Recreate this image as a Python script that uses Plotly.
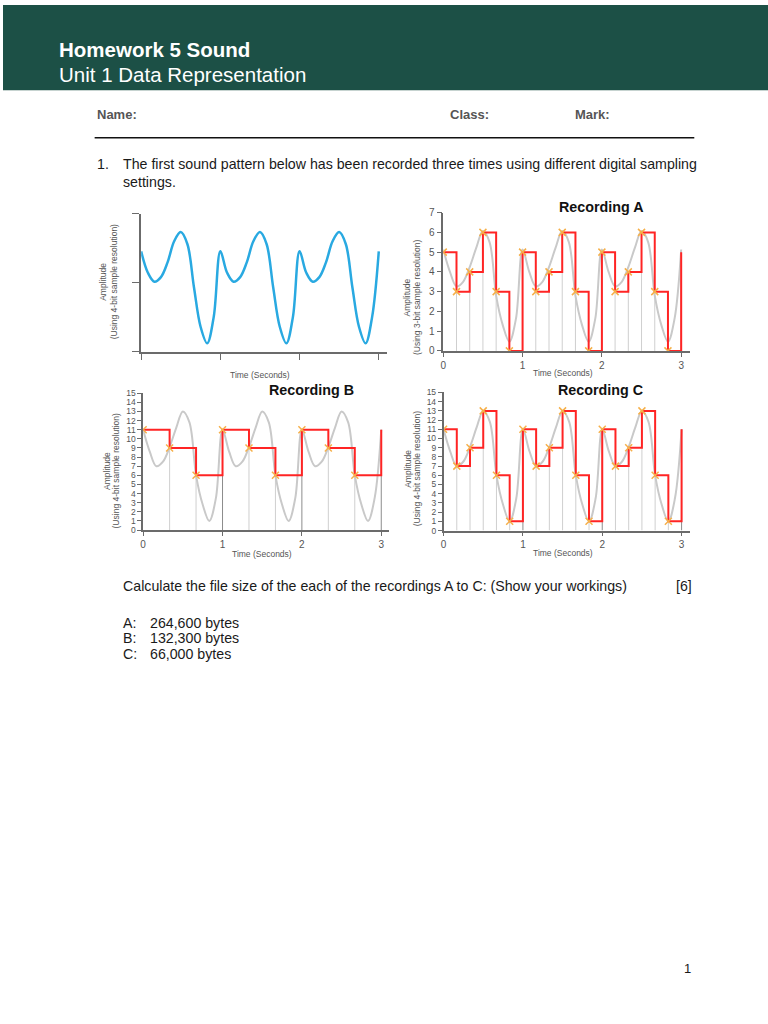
import plotly.graph_objects as go

W, H = 768, 1024

# one period of the source sound is sampled every 1/12 s on the smooth curves
wave_t = [i / 12 for i in range(37)]

# original sound (top-left chart), 4-bit units
original_wave = [10.9, 8.6, 7.6, 8.1, 9.7, 12.0, 13.0, 11.7, 7.0, 2.7, 0.9, 3.8,
                 10.9, 8.6, 7.6, 8.1, 9.7, 12.0, 13.0, 11.7, 7.0, 2.7, 0.9, 3.8,
                 10.9, 8.6, 7.6, 8.1, 9.7, 12.0, 13.0, 11.7, 7.0, 2.7, 0.9, 3.8,
                 10.9]

# grey reference curve behind the recordings, 4-bit units
grey_wave = [11.0, 8.6, 7.0, 7.5, 9.1, 11.2, 13.0, 11.8, 6.0, 2.8, 1.0, 3.5,
             11.0, 8.6, 7.0, 7.5, 9.1, 11.2, 13.0, 11.8, 6.0, 2.8, 1.0, 3.5,
             11.0, 8.6, 7.0, 7.5, 9.1, 11.2, 13.0, 11.8, 6.0, 2.8, 1.0, 3.5,
             11.0]
# same curve in 3-bit units (recording A)
grey_wave_3bit = [v * 7 / 15 for v in grey_wave]

# recording A: 6 samples per second, 3-bit
rec_a_t = [i / 6 for i in range(19)]
rec_a = [5, 3, 4, 6, 3, 0, 5, 3, 4, 6, 3, 0, 5, 3, 4, 6, 3, 0, 5]

# recording B: 3 samples per second, 4-bit
rec_b_t = [i / 3 for i in range(10)]
rec_b = [11, 9, 6, 11, 9, 6, 11, 9, 6, 11]

# recording C: 6 samples per second, 4-bit
rec_c_t = [i / 6 for i in range(19)]
rec_c = [11, 7, 9, 13, 6, 1, 11, 7, 9, 13, 6, 1, 11, 7, 9, 13, 6, 1, 11]

answers = ["264,600 bytes", "132,300 bytes", "66,000 bytes"]

FONT = "Liberation Sans, Arial, sans-serif"
AXIS_COL = '#6b6b6b'
GREY = '#c9c9c9'
RED = '#ff2424'
ORANGE = '#f6b04a'


def px(x):
    return x / W


def py(y):
    return 1 - y / H


fig = go.Figure()


def stems(t, v, xa, ya, integer=False):
    xs, ys = [], []
    for ti, vi in zip(t, v):
        is_int = abs(ti - round(ti)) < 1e-9
        if is_int != integer or vi == 0:
            continue
        xs += [ti, ti, None]
        ys += [0, vi, None]
    fig.add_trace(go.Scatter(x=xs, y=ys, mode='lines', xaxis=xa, yaxis=ya,
                             line=dict(color='#8c8c8c' if integer else '#cfcfcf', width=1),
                             hoverinfo='skip', showlegend=False))


def recording(t, v, curve, xa, ya):
    stems(t[1:], v[1:], xa, ya)
    stems(t[1:], v[1:], xa, ya, integer=True)
    fig.add_trace(go.Scatter(x=wave_t, y=curve, mode='lines', xaxis=xa, yaxis=ya,
                             line=dict(color=GREY, width=2, shape='spline', smoothing=1.0),
                             hoverinfo='skip', showlegend=False))
    fig.add_trace(go.Scatter(x=t, y=v, mode='lines', xaxis=xa, yaxis=ya,
                             line=dict(color=RED, width=2, shape='hv'),
                             showlegend=False))
    fig.add_trace(go.Scatter(x=t[:-1], y=v[:-1], mode='markers', xaxis=xa, yaxis=ya,
                             marker=dict(symbol='x-thin', size=7, color=ORANGE,
                                         line=dict(color=ORANGE, width=1.5)),
                             showlegend=False))


# top-left: original sound
fig.add_trace(go.Scatter(x=wave_t, y=original_wave, mode='lines', xaxis='x', yaxis='y',
                         line=dict(color='#29a9e1', width=2.5, shape='spline', smoothing=1.0),
                         showlegend=False))

recording(rec_a_t, rec_a, grey_wave_3bit, 'x2', 'y2')
recording(rec_b_t, rec_b, grey_wave, 'x3', 'y3')
recording(rec_c_t, rec_c, grey_wave, 'x4', 'y4')


def axis(x0, x1, rng, labels=True, size=9, tickvals=None, ticklen=5):
    d = dict(domain=[px(x0), px(x1)], range=rng, showgrid=False, zeroline=False,
             showline=True, linecolor=AXIS_COL, linewidth=1.5,
             ticks='outside', ticklen=ticklen, tickcolor=AXIS_COL, tickwidth=1,
             showticklabels=labels, tickfont=dict(family=FONT, size=size, color='#555555'),
             fixedrange=True)
    if tickvals is not None:
        d['tickvals'] = tickvals
    return d


def yaxis(y0, y1, rng, labels=True, size=9, tickvals=None, ticklen=5):
    d = axis(0, W, rng, labels, size, tickvals, ticklen)
    d['domain'] = [py(y1), py(y0)]
    return d


fig.update_layout(
    width=W, height=H,
    margin=dict(l=0, r=0, t=0, b=0),
    plot_bgcolor='white', paper_bgcolor='white',
    showlegend=False,
    xaxis=axis(138.7, 386, [0, 3.11], labels=False, tickvals=[0, 1, 2, 3], ticklen=7),
    yaxis=dict(yaxis(210.7, 350, [0, 15], labels=False, tickvals=[0, 7.5, 15], ticklen=7), anchor='x'),
    xaxis2=dict(axis(442, 690, [0, 3.115], size=10, tickvals=[0, 1, 2, 3], ticklen=4), anchor='y2'),
    yaxis2=dict(yaxis(209.7, 349.3, [0, 7], size=10, tickvals=list(range(8))), anchor='x2'),
    xaxis3=dict(axis(140.7, 387.7, [0, 3.10], size=10, tickvals=[0, 1, 2, 3], ticklen=4), anchor='y3'),
    yaxis3=dict(yaxis(392, 530.3, [0, 15], size=8.5, tickvals=list(range(16)), ticklen=4), anchor='x3'),
    xaxis4=dict(axis(442.3, 690, [0, 3.11], size=10, tickvals=[0, 1, 2, 3], ticklen=4), anchor='y4'),
    yaxis4=dict(yaxis(391.3, 530.7, [0, 15], size=8.5, tickvals=list(range(16)), ticklen=4), anchor='x4'),
)

# header band
fig.add_shape(type='rect', xref='paper', yref='paper', x0=0, x1=1, y0=py(86), y1=1,
              fillcolor='#1c5046', line=dict(width=0), layer='below')
fig.add_shape(type='line', xref='paper', yref='paper', x0=px(92), x1=px(694), y0=py(134), y1=py(134),
              line=dict(color='#111111', width=1.5))


def text(x, y, s, size=14, color='#1a1a1a', bold=False, anchor='left', angle=0):
    if bold:
        s = '<b>' + s + '</b>'
    fig.add_annotation(x=px(x), y=py(y), xref='paper', yref='paper', text=s, showarrow=False,
                       xanchor=anchor, yanchor='middle', textangle=angle,
                       font=dict(family=FONT, size=size, color=color))


text(54, 45, 'Homework 5 Sound', size=20.5, color='white', bold=True)
text(54, 70, 'Unit 1 Data Representation', size=20.5, color='white')

text(92, 111, 'Name:', size=13, color='#555555', bold=True)
text(447, 111, 'Class:', size=13, color='#555555', bold=True)
text(572, 111, 'Mark:', size=13, color='#555555', bold=True)

text(92, 161, '1.', size=14.2)
text(118, 161, 'The first sound pattern below has been recorded three times using different digital sampling', size=14.2)
text(118, 179, 'settings.', size=14.2)

# chart labels
text(258, 374, 'Time (Seconds)', size=8.5, color='#555555', anchor='center')
text(101, 280, 'Amplitude', size=8.5, color='#555555', anchor='center', angle=-90)
text(111.5, 280, '(Using 4-bit sample resolution)', size=8.5, color='#555555', anchor='center', angle=-90)

text(600, 204, 'Recording A', size=14.3, color='#111111', bold=True, anchor='center')
text(562, 371.5, 'Time (Seconds)', size=8.5, color='#555555', anchor='center')
text(406, 295, 'Amplitude', size=8.5, color='#555555', anchor='center', angle=-90)
text(415.5, 295, '(Using 3-bit sample resolution)', size=8.5, color='#555555', anchor='center', angle=-90)

text(310, 388.5, 'Recording B', size=14.3, color='#111111', bold=True, anchor='center')
text(260, 554, 'Time (Seconds)', size=8.5, color='#555555', anchor='center')
text(105, 471, 'Amplitude', size=8.5, color='#555555', anchor='center', angle=-90)
text(113.5, 471, '(Using 4-bit sample resolution)', size=8.5, color='#555555', anchor='center', angle=-90)

text(600, 388.5, 'Recording C', size=14.3, color='#111111', bold=True, anchor='center')
text(562, 553, 'Time (Seconds)', size=8.5, color='#555555', anchor='center')
text(407, 468, 'Amplitude', size=8.5, color='#555555', anchor='center', angle=-90)
text(416.5, 468, '(Using 4-bit sample resolution)', size=8.5, color='#555555', anchor='center', angle=-90)

text(118, 587, 'Calculate the file size of the each of the recordings A to C: (Show your workings)', size=14.2)
text(694, 587, '[6]', size=14.2, anchor='right')

for i, (lab, ans) in enumerate(zip(['A:', 'B:', 'C:'], answers)):
    text(118, 624 + i * 15.5, lab, size=14.2)
    text(146, 624 + i * 15.5, ans, size=14.2)

text(693, 973, '1', size=13, anchor='right')

# drop the browser's default body margin so the figure sits at the page corner
fig.write_html("out.html", config={'displayModeBar': False},
               post_script="document.documentElement.style.margin='0';"
                           "document.body.style.margin='0';document.body.style.padding='0';"
                           "document.body.style.overflow='hidden';"
                           "var p=document.getElementById('{plot_id}').parentElement;"
                           "p.style.position='absolute';p.style.left='0px';p.style.top='0px';")
